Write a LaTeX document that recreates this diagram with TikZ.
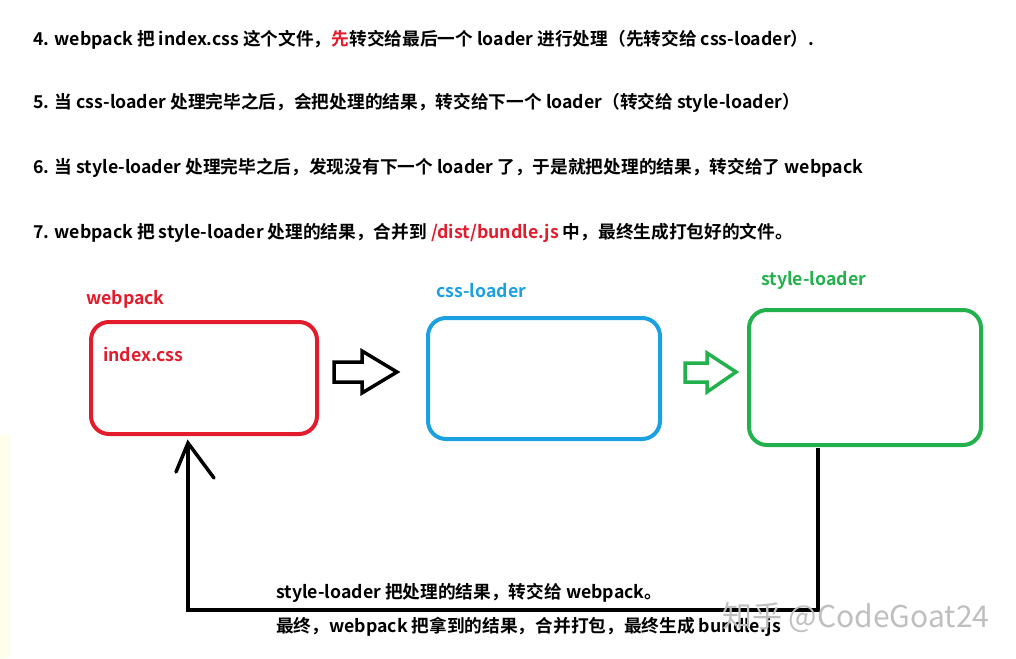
\documentclass[tikz,border=0pt]{standalone}
\usepackage{fontspec}
\setmainfont{Noto Sans CJK SC}[BoldFont={Noto Sans CJK SC Bold}]
\newfontfamily\wm{Noto Sans CJK SC}
\definecolor{cred}{HTML}{E21C2C}
\definecolor{cblue}{HTML}{1BA1E2}
\definecolor{cgreen}{HTML}{22B14C}
\begin{document}
\begin{tikzpicture}[x=1pt,y=-1pt,
  txt/.style={anchor=west,inner sep=0pt,font=\fontsize{17.7}{20}\selectfont\bfseries},
  bx/.style={draw,line width=4pt,rounded corners=18pt},
  hollow/.style={draw,line width=3.5pt,line join=miter}]
\useasboundingbox (0,0) rectangle (1016,658);
\fill[yellow!8] (0,435) rectangle (10,658);
\node[txt] (l4) at (33,40) {4. webpack 把 index.css 这个文件，\textcolor{cred}{先}转交给最后一个 loader 进行处理（先转交给 css-loader）.};
\node[txt] (l5) at (33,103) {5. 当 css-loader 处理完毕之后，会把处理的结果，转交给下一个 loader（转交给 style-loader）};
\node[txt] (l6) at (33,168) {6. 当 style-loader 处理完毕之后，发现没有下一个 loader 了，于是就把处理的结果，转交给了 webpack};
\node[txt] (l7) at (33,233) {7. webpack 把 style-loader 处理的结果，合并到 \textcolor{cred}{/dist/bundle.js} 中，最终生成打包好的文件。};
\draw[bx,cred] (91,322) rectangle (317,434);
\draw[bx,cblue] (428,318) rectangle (660,439);
\draw[bx,cgreen] (749,310) rectangle (981,445);
\node[txt,text=cred] (wp) at (86,299) {webpack};
\node[txt,text=cred] (ic) at (103,354) {index.css};
\node[txt,text=cblue] (cl) at (436,291) {css-loader};
\node[txt,text=cgreen] (sl) at (761,280) {style-loader};
\draw[hollow] (334,362)--(362,362)--(362,351)--(397,372)--(362,393)--(362,382)--(334,382)--cycle;
\draw[hollow,cgreen] (685,363)--(707,363)--(707,353)--(736,372)--(707,392)--(707,382)--(685,382)--cycle;
\coordinate (gs) at (818,448);
\draw[line width=4pt] (gs)--(818,610)--(188,610)--(188,445);
\draw[line width=3.5pt,line cap=round] (176,472)--(188,443)--(214,478);
\node[txt] (b1) at (276,593) {style-loader 把处理的结果，转交给 webpack。};
\node[txt] (b2) at (276,627) {最终，webpack 把拿到的结果，合并打包，最终生成 bundle.js};
\node[anchor=west,inner sep=0pt,text=black!25,font=\wm\fontsize{30}{32}\selectfont] (w) at (722,617) {知乎 @CodeGoat24};
\end{tikzpicture}
\end{document}
